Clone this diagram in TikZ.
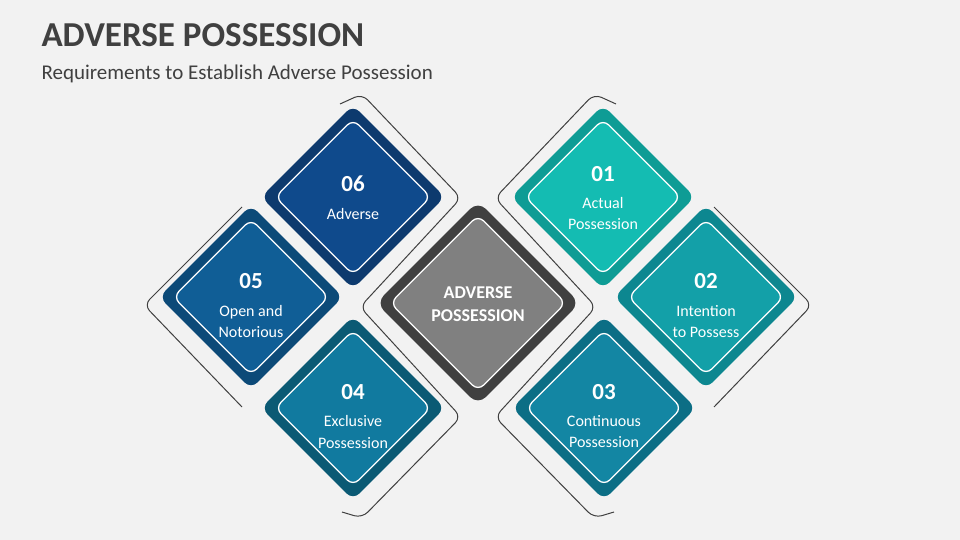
\documentclass[tikz,border=0pt]{standalone}
\usepackage{fontspec}
\setmainfont{Carlito}
\usetikzlibrary{shapes.geometric}
\definecolor{bg}{HTML}{F2F2F2}
\definecolor{tt}{HTML}{404040}
\tikzset{
 od/.style={diamond,aspect=1,inner sep=0,minimum size=184pt,rounded corners=9pt,fill=#1},
 id/.style={diamond,aspect=1,inner sep=0,minimum size=156pt,rounded corners=8pt,fill=#1,draw=white,line width=1.3pt},
 num/.style={text=white,font=\bfseries\fontsize{23}{26}\selectfont},
 lab/.style={text=white,font=\fontsize{16}{21}\selectfont,align=center},
 br/.style={draw=tt,line width=1pt,rounded corners=8pt}
}
\begin{document}
\begin{tikzpicture}[x=1pt,y=-1pt]
\fill[bg] (0,0) rectangle (960,540);
\useasboundingbox (0,0) rectangle (960,540);
\node[anchor=west,text=tt,font=\bfseries\fontsize{35}{40}\selectfont] (title) at (38,35) {ADVERSE POSSESSION};
\node[anchor=west,text=tt,font=\fontsize{21}{24}\selectfont] (sub) at (38,74) {Requirements to Establish Adverse Possession};
% brackets
\draw[br] (340,104) -- (362,94) -- (461,198) -- (360,307) -- (461,417) -- (362,518) -- (342,512);
\draw[br] (242,207) -- (144,305) -- (242,407);
\draw[br] (616,104) -- (594,94) -- (495,198) -- (596,307) -- (495,417) -- (594,518) -- (614,512);
\draw[br] (714,207) -- (812,305) -- (714,407);
% center
\node[od=black!75,minimum size=204pt,rounded corners=11pt] (c) at (478,303) {};
\node[id=black!50,minimum size=176pt] (ci) at (478,303) {};
\node[text=white,font=\bfseries\fontsize{18}{23}\selectfont,align=center] (ct) at (478,304) {ADVERSE\\POSSESSION};
% items
\foreach \n/\x/\y/\o/\i/\t in {
 06/353/197/0D3A6E/0F4A8C/Adverse,
 05/251/297/0C4A78/105E96/{Open and\\Notorious},
 04/353/408/0B5A74/117A9F/{Exclusive\\Possession},
 01/603/197/0E9C95/14BCB2/{Actual\\Possession},
 02/706/297/0D8790/13A0A8/{Intention\\to Possess},
 03/604/408/0C6E85/1386A3/{Continuous\\Possession}}{
 \definecolor{oc}{HTML}{\o}\definecolor{ic}{HTML}{\i}
 \node[od=oc] (o\n) at (\x,\y) {};
 \node[id=ic] (i\n) at (\x,\y) {};
}
\node[num] (n06) at (353,184) {06}; \node[lab] (l06) at (353,214) {Adverse};
\node[num] (n05) at (251,281) {05}; \node[lab] (l05) at (251,322) {Open and\\Notorious};
\node[num] (n04) at (353,392) {04}; \node[lab] (l04) at (353,432) {Exclusive\\Possession};
\node[num] (n01) at (603,174) {01}; \node[lab] (l01) at (603,214) {Actual\\Possession};
\node[num] (n02) at (706,281) {02}; \node[lab] (l02) at (706,322) {Intention\\to Possess};
\node[num] (n03) at (604,392) {03}; \node[lab] (l03) at (604,432) {Continuous\\Possession};
\end{tikzpicture}
\end{document}
